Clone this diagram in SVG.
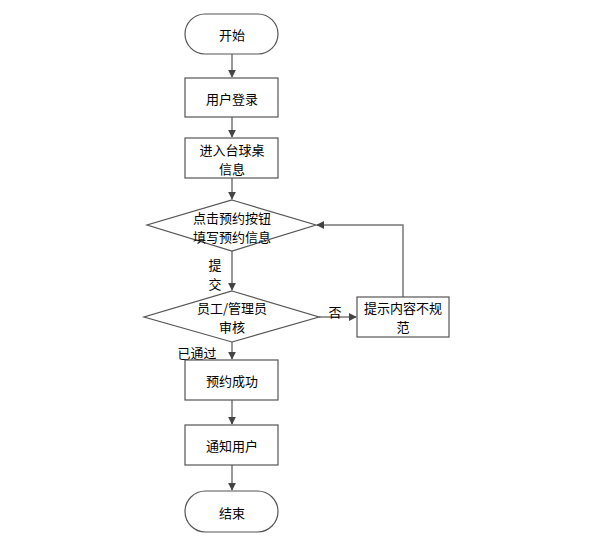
<svg xmlns="http://www.w3.org/2000/svg" width="605" height="547" viewBox="0 0 605 547">
<style>
.n{fill:#fff;stroke:#555;stroke-width:1.2}
.t{font-family:"Noto Sans CJK SC","Liberation Sans",sans-serif;font-size:13px;fill:#000;text-anchor:middle;dominant-baseline:central}
.c{fill:none;stroke:#777;stroke-width:1.5}
</style>
<defs>
<marker id="a" viewBox="0 0 10 10" refX="9" refY="5" markerWidth="8" markerHeight="8" markerUnits="userSpaceOnUse" orient="auto">
<path d="M0,0L10,5L0,10z" fill="#444"/>
</marker>
</defs>
<rect width="605" height="547" fill="#fff"/>
<g id="connectors">
<path class="c" d="M232,54V77" marker-end="url(#a)"/>
<path class="c" d="M232,117V137" marker-end="url(#a)"/>
<path class="c" d="M232,178V199" marker-end="url(#a)"/>
<path class="c" d="M232,251V290" marker-end="url(#a)"/>
<path class="c" d="M319,317H356" marker-end="url(#a)"/>
<path class="c" d="M403,297V225H317" marker-end="url(#a)"/>
<path class="c" d="M232,342V359" marker-end="url(#a)"/>
<path class="c" d="M232,400V424" marker-end="url(#a)"/>
<path class="c" d="M232,465V490" marker-end="url(#a)"/>
<text class="t" x="215" y="264">提</text>
<text class="t" x="215" y="283">交</text>
<text class="t" x="335" y="311">否</text>
<text class="t" x="197" y="352">已通过</text>
</g>
<g id="start"><rect class="n" x="185" y="14" width="93" height="40" rx="20"/><text class="t" x="232" y="34">开始</text></g>
<g id="login"><rect class="n" x="185" y="78" width="93" height="39"/><text class="t" x="232" y="98">用户登录</text></g>
<g id="enter"><rect class="n" x="185" y="138" width="93" height="40"/><text class="t" x="232" y="149">进入台球桌</text><text class="t" x="232" y="168">信息</text></g>
<g id="fill"><polygon class="n" points="232,200 316,225 232,251 147,225"/><text class="t" x="232" y="217">点击预约按钮</text><text class="t" x="232" y="236">填写预约信息</text></g>
<g id="review"><polygon class="n" points="232,291 319,317 232,342 144,317"/><text class="t" x="232" y="307">员工/管理员</text><text class="t" x="232" y="326">审核</text></g>
<g id="hint"><rect class="n" x="357" y="297" width="92" height="40"/><text class="t" x="403" y="307">提示内容不规</text><text class="t" x="403" y="326">范</text></g>
<g id="success"><rect class="n" x="185" y="360" width="93" height="40"/><text class="t" x="232" y="380">预约成功</text></g>
<g id="notify"><rect class="n" x="185" y="425" width="93" height="40"/><text class="t" x="232" y="445">通知用户</text></g>
<g id="end"><rect class="n" x="185" y="491" width="93" height="41" rx="20.5"/><text class="t" x="232" y="512">结束</text></g>
</svg>
